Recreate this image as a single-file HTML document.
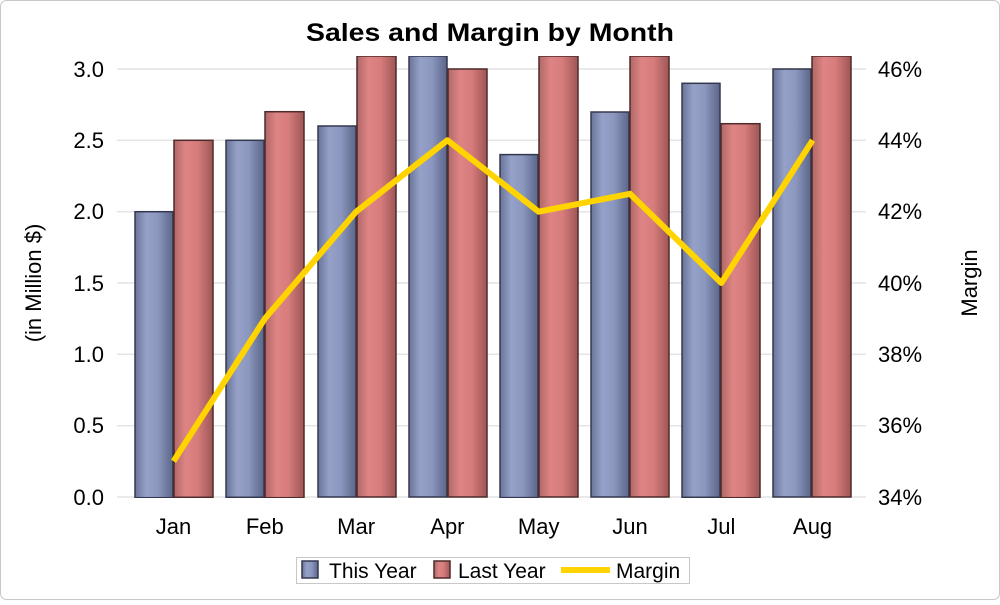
<!DOCTYPE html>
<html><head><style>
body{margin:0;background:#fff}
svg text{font-family:"Liberation Sans",sans-serif}
</style></head><body>
<svg width="1000" height="600" xmlns="http://www.w3.org/2000/svg">
<defs>
<linearGradient id="gb" x1="0" x2="1" y1="0" y2="0">
<stop offset="0" stop-color="#6a7499"/><stop offset="0.3" stop-color="#95a1c8"/><stop offset="0.6" stop-color="#8b97be"/><stop offset="1" stop-color="#5c6589"/></linearGradient>
<linearGradient id="gr" x1="0" x2="1" y1="0" y2="0">
<stop offset="0" stop-color="#b06868"/><stop offset="0.3" stop-color="#de8484"/><stop offset="0.6" stop-color="#d77c7c"/><stop offset="1" stop-color="#9e5656"/></linearGradient>
<clipPath id="c"><rect x="110" y="56" width="760" height="442"/></clipPath>
</defs>
<rect x="0.5" y="0.5" width="999" height="599" rx="6" fill="#fff" stroke="#c8c8c8"/>
<text x="490" y="41" font-size="25" font-weight="bold" text-anchor="middle" textLength="368" lengthAdjust="spacingAndGlyphs">Sales and Margin by Month</text>
<g stroke="#e4e4e4" stroke-width="1.5">
<line x1="117" x2="866" y1="69" y2="69"/><line x1="117" x2="866" y1="140.3" y2="140.3"/><line x1="117" x2="866" y1="211.7" y2="211.7"/><line x1="117" x2="866" y1="283" y2="283"/><line x1="117" x2="866" y1="354.3" y2="354.3"/><line x1="117" x2="866" y1="425.7" y2="425.7"/><line x1="117" x2="866" y1="497" y2="497"/>
</g>
<g font-size="22" text-anchor="end" fill="#000">
<text x="104" y="77">3.0</text><text x="104" y="148">2.5</text><text x="104" y="219">2.0</text><text x="104" y="291">1.5</text><text x="104" y="362">1.0</text><text x="104" y="433">0.5</text><text x="104" y="505">0.0</text>
</g>
<g font-size="22" fill="#000">
<text x="878" y="77">46%</text><text x="878" y="148">44%</text><text x="878" y="219">42%</text><text x="878" y="291">40%</text><text x="878" y="362">38%</text><text x="878" y="433">36%</text><text x="878" y="505">34%</text>
</g>
<text transform="translate(41,283) rotate(-90)" font-size="22" text-anchor="middle">(in Million $)</text>
<text transform="translate(977,283) rotate(-90)" font-size="22" text-anchor="middle">Margin</text>
<g clip-path="url(#c)" stroke-width="1.5">
<g fill="url(#gb)" stroke="#34384e">
<rect x="135" y="211.7" width="38" height="286"/>
<rect x="226" y="140.3" width="38" height="357"/>
<rect x="318" y="126" width="38" height="371"/>
<rect x="409" y="56" width="38" height="441"/>
<rect x="500" y="154.6" width="38" height="343"/>
<rect x="591" y="112" width="38" height="385"/>
<rect x="682" y="83.3" width="38" height="414"/>
<rect x="773" y="69" width="38" height="428"/>
</g>
<g fill="url(#gr)" stroke="#4e2a2a">
<rect x="174" y="140.3" width="39" height="357"/>
<rect x="265" y="111.7" width="39" height="386"/>
<rect x="357" y="56" width="39" height="441"/>
<rect x="448" y="69" width="39" height="428"/>
<rect x="539" y="56" width="39" height="441"/>
<rect x="630" y="56" width="39" height="441"/>
<rect x="721" y="123.7" width="39" height="374"/>
<rect x="812" y="56" width="39" height="441"/>
</g>
</g>
<polyline fill="none" stroke="#ffd400" stroke-width="6" stroke-linejoin="round" points="173.5,461.3 264.8,318.7 356.1,211.7 447.4,140.3 538.7,211.7 630,193.8 721.3,283 812.6,140.3"/>
<g font-size="22" text-anchor="middle">
<text x="173.5" y="534">Jan</text><text x="264.8" y="534">Feb</text><text x="356.1" y="534">Mar</text><text x="447.4" y="534">Apr</text><text x="538.7" y="534">May</text><text x="630" y="534">Jun</text><text x="721.3" y="534">Jul</text><text x="812.6" y="534">Aug</text>
</g>
<rect x="296.5" y="557.5" width="393" height="26" fill="#fff" stroke="#c8c8c8"/>
<rect x="302" y="561" width="16" height="17" fill="url(#gb)" stroke="#34384e" stroke-width="1.5"/>
<text x="329" y="578" font-size="21">This Year</text>
<rect x="434" y="561" width="16" height="17" fill="url(#gr)" stroke="#4e2a2a" stroke-width="1.5"/>
<text x="458" y="578" font-size="21">Last Year</text>
<line x1="561" x2="610" y1="570" y2="570" stroke="#ffd400" stroke-width="6"/>
<text x="616" y="578" font-size="21">Margin</text>
</svg>
</body></html>
